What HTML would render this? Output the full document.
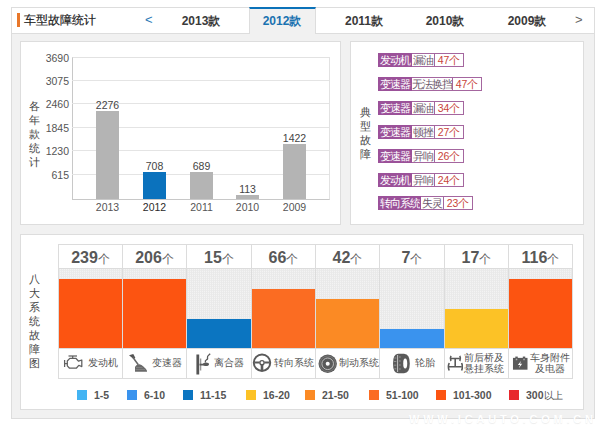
<!DOCTYPE html>
<html><head><meta charset="utf-8">
<style>
*{margin:0;padding:0;box-sizing:border-box}
html,body{width:600px;height:429px;overflow:hidden;background:#fff;font-family:"Liberation Sans",sans-serif;color:#333}
.a{position:absolute}
#outer{left:11px;top:7px;width:584px;height:412px;border:1px solid #ddd;background:#f1f1f1}
#hdr{left:12px;top:8px;width:582px;height:26px;background:#fff;border-bottom:1px solid #ddd}
#bar{left:17px;top:13px;width:3px;height:14px;background:#e8772a}
#title{left:24px;top:13px;font-size:11.5px;line-height:14px;color:#222;white-space:nowrap;-webkit-text-stroke:0.2px #222}
.tab{top:13px;font-size:12px;line-height:16px;font-weight:bold;color:#3a3a3a;text-align:center;width:80px;white-space:nowrap}
#act{left:249px;top:7px;width:67px;height:27px;background:#f1f1f1;border-left:1px solid #ddd;border-right:1px solid #ddd;border-top:2px solid #0b72b9}
.arr{top:12px;font-size:13px;line-height:16px;color:#666}
.arr.b{color:#2a78b5}
.panel{background:#fff;border:1px solid #ddd}
.yl{font-size:10.5px;line-height:12px;color:#555;text-align:right;width:30px;left:39px}
.grid{left:72px;width:257px;height:1px;background:#e4e4e4}
.bar{background:#b4b4b4;width:23px}
.vl{font-size:10.5px;line-height:12px;color:#444;text-align:center;width:39px}
.xl{font-size:10.5px;line-height:12px;color:#555;text-align:center;width:39px;top:201px}
.vt{font-size:11px;line-height:14px;color:#444;width:14px;text-align:center}
.tag{left:378px;height:14px;display:flex;font-size:10.5px;line-height:12px;white-space:nowrap;letter-spacing:-1px}
.tag span{display:block;text-align:center;border:1px solid #a4669f;height:14px;overflow:hidden}
.tag .k{background:#9b5199;color:#fff;border-color:#9b5199}
.tag .m{background:#fff;color:#6d5a6d;border-left:none}
.tag .n{background:#fff;color:#c8443a;border-left:none;letter-spacing:0}
.col{top:244px;width:65px;height:135px;border:1px solid #ddd;background:#fff}
.num{top:249px;height:18px;font-size:16px;line-height:18px;font-weight:bold;color:#585858;text-align:center;width:64px;white-space:nowrap}
.num small{font-size:12px;font-weight:normal;color:#666}
.plot{top:268px;height:80px;width:64px;background:#eeeeee}
.fb{width:64px}
.lg{top:390px;width:10px;height:10px}
.lt{top:388px;font-size:10.5px;line-height:14px;font-weight:bold;color:#555;white-space:nowrap}
.ic{top:350px;height:28px;width:64px}
.it{font-size:9.5px;line-height:12px;color:#555;white-space:nowrap}
</style></head><body>
<div class="a" id="outer"></div>
<div class="a" id="hdr"></div>
<div class="a" id="bar"></div>
<div class="a" id="title">车型故障统计</div>
<div class="a" id="act"></div>
<div class="a arr b" style="left:145px">&lt;</div>
<div class="a tab" style="left:161px">2013款</div>
<div class="a tab" style="left:242px;color:#1a72b0">2012款</div>
<div class="a tab" style="left:324px">2011款</div>
<div class="a tab" style="left:405px">2010款</div>
<div class="a tab" style="left:487px">2009款</div>
<div class="a arr" style="left:575px">&gt;</div>

<!-- chart panel -->
<div class="a panel" style="left:20px;top:41px;width:321px;height:184px"></div>
<div class="a" style="left:72px;top:57px;width:258px;height:143px;border:1px solid #e2e2e2;border-left:1px solid #c8c8c8;border-bottom:1px solid #c8c8c8"></div>
<div class="a yl" style="top:52px">3690</div>
<div class="a grid" style="top:80px"></div>
<div class="a yl" style="top:75px">3075</div>
<div class="a grid" style="top:103px"></div>
<div class="a yl" style="top:98px">2460</div>
<div class="a grid" style="top:127px"></div>
<div class="a yl" style="top:122px">1845</div>
<div class="a grid" style="top:150px"></div>
<div class="a yl" style="top:145px">1230</div>
<div class="a grid" style="top:174px"></div>
<div class="a yl" style="top:169px">615</div>
<div class="a bar" style="left:96px;top:111px;height:88px;background:#b4b4b4"></div>
<div class="a vl" style="left:88px;top:99px">2276</div>
<div class="a xl" style="left:88px;color:#555">2013</div>
<div class="a bar" style="left:143px;top:172px;height:27px;background:#0b72bd"></div>
<div class="a vl" style="left:135px;top:160px">708</div>
<div class="a xl" style="left:135px;color:#2a2a2a">2012</div>
<div class="a bar" style="left:190px;top:172px;height:27px;background:#b4b4b4"></div>
<div class="a vl" style="left:182px;top:160px">689</div>
<div class="a xl" style="left:182px;color:#555">2011</div>
<div class="a bar" style="left:236px;top:195px;height:4px;background:#b4b4b4"></div>
<div class="a vl" style="left:228px;top:183px">113</div>
<div class="a xl" style="left:228px;color:#555">2010</div>
<div class="a bar" style="left:283px;top:144px;height:55px;background:#b4b4b4"></div>
<div class="a vl" style="left:275px;top:132px">1422</div>
<div class="a xl" style="left:275px;color:#555">2009</div>
<div class="a vt" style="left:27px;top:99px">各</div>
<div class="a vt" style="left:27px;top:113px">年</div>
<div class="a vt" style="left:27px;top:127px">款</div>
<div class="a vt" style="left:27px;top:141px">统</div>
<div class="a vt" style="left:27px;top:155px">计</div>
<div class="a panel" style="left:350px;top:41px;width:234px;height:184px"></div>
<div class="a vt" style="left:358px;top:105px">典</div>
<div class="a vt" style="left:358px;top:119px">型</div>
<div class="a vt" style="left:358px;top:133px">故</div>
<div class="a vt" style="left:358px;top:147px">障</div>
<div class="a tag" style="top:53px"><span class="k" style="width:34px">发动机</span><span class="m" style="width:23px">漏油</span><span class="n" style="width:29px">47个</span></div>
<div class="a tag" style="top:77px"><span class="k" style="width:34px">变速器</span><span class="m" style="width:41px">无法换挡</span><span class="n" style="width:29px">47个</span></div>
<div class="a tag" style="top:101px"><span class="k" style="width:34px">变速器</span><span class="m" style="width:23px">漏油</span><span class="n" style="width:29px">34个</span></div>
<div class="a tag" style="top:125px"><span class="k" style="width:34px">变速器</span><span class="m" style="width:23px">顿挫</span><span class="n" style="width:29px">27个</span></div>
<div class="a tag" style="top:149px"><span class="k" style="width:34px">变速器</span><span class="m" style="width:23px">异响</span><span class="n" style="width:29px">26个</span></div>
<div class="a tag" style="top:173px"><span class="k" style="width:34px">发动机</span><span class="m" style="width:23px">异响</span><span class="n" style="width:29px">24个</span></div>
<div class="a tag" style="top:196px"><span class="k" style="width:43px">转向系统</span><span class="m" style="width:23px">失灵</span><span class="n" style="width:29px">23个</span></div>
<div class="a panel" style="left:20px;top:234px;width:564px;height:176px"></div>
<div class="a vt" style="left:27px;top:272px">八</div>
<div class="a vt" style="left:27px;top:286px">大</div>
<div class="a vt" style="left:27px;top:300px">系</div>
<div class="a vt" style="left:27px;top:314px">统</div>
<div class="a vt" style="left:27px;top:328px">故</div>
<div class="a vt" style="left:27px;top:342px">障</div>
<div class="a vt" style="left:27px;top:356px">图</div>
<div class="a" style="left:58px;top:244px;width:515px;height:135px;border:1px solid #dcdcdc;background:#fff"></div>
<div class="a" style="left:59px;top:268px;width:513px;height:81px;background-color:#f3f3f3;background-image:repeating-linear-gradient(90deg,#e9e9e9 0 1px,transparent 1px 2px),repeating-linear-gradient(0deg,#ebebeb 0 1px,transparent 1px 2px);border-top:1px solid #dcdcdc"></div>
<div class="a" style="left:59px;top:279px;width:63px;height:70px;background:#fc5411"></div>
<div class="a num" style="left:59px;width:63px">239<small>个</small></div>
<div class="a" style="left:123px;top:279px;width:63px;height:70px;background:#fc5411"></div>
<div class="a num" style="left:123px;width:63px">206<small>个</small></div>
<div class="a" style="left:122px;top:244px;width:1px;height:135px;background:#dcdcdc"></div>
<div class="a" style="left:187px;top:319px;width:64px;height:30px;background:#0b75c1"></div>
<div class="a num" style="left:187px;width:64px">15<small>个</small></div>
<div class="a" style="left:186px;top:244px;width:1px;height:135px;background:#dcdcdc"></div>
<div class="a" style="left:252px;top:289px;width:63px;height:60px;background:#fb6c22"></div>
<div class="a num" style="left:252px;width:63px">66<small>个</small></div>
<div class="a" style="left:251px;top:244px;width:1px;height:135px;background:#dcdcdc"></div>
<div class="a" style="left:316px;top:299px;width:63px;height:50px;background:#fb8a24"></div>
<div class="a num" style="left:316px;width:63px">42<small>个</small></div>
<div class="a" style="left:315px;top:244px;width:1px;height:135px;background:#dcdcdc"></div>
<div class="a" style="left:380px;top:329px;width:64px;height:20px;background:#3a93ee"></div>
<div class="a num" style="left:380px;width:64px">7<small>个</small></div>
<div class="a" style="left:379px;top:244px;width:1px;height:135px;background:#dcdcdc"></div>
<div class="a" style="left:445px;top:309px;width:63px;height:40px;background:#fcc226"></div>
<div class="a num" style="left:445px;width:63px">17<small>个</small></div>
<div class="a" style="left:444px;top:244px;width:1px;height:135px;background:#dcdcdc"></div>
<div class="a" style="left:509px;top:279px;width:63px;height:70px;background:#fc5411"></div>
<div class="a num" style="left:509px;width:63px">116<small>个</small></div>
<div class="a" style="left:508px;top:244px;width:1px;height:135px;background:#dcdcdc"></div>
<div class="a" style="left:58px;top:348px;width:515px;height:1px;background:#dcdcdc"></div>
<svg class="a" style="left:63px;top:354px" width="21" height="15" viewBox="0 0 21 15"><g fill="none" stroke="#606060" stroke-width="1.25" stroke-linejoin="round"><path d="M5.5 2H14"/><path d="M9.7 2V4.3"/><path d="M4.3 7L6.8 4.3H12.8L15.6 7.2L18.8 6V12.6L15.8 11.3L13.5 14H6.3L4.3 11.8Z"/><path d="M1.6 6V13M1.6 9.5H4.3"/></g></svg>
<svg class="a" style="left:128px;top:353px" width="20" height="20" viewBox="0 0 20 20"><path d="M1 2.2L5.3 1L7.4 5L5.6 6Z" fill="#555"/><path d="M5 4.5L10.3 11.8" stroke="#666" stroke-width="1.5"/><path d="M7 18.8V13.8Q8.5 11 11.5 11.3Q15.5 12.5 19 17.5V18.8Z" fill="#6a6a6a"/><path d="M8 14.5H14.5M7.5 16.5H17" stroke="#8a8a8a" stroke-width="0.7"/></svg>
<svg class="a" style="left:195px;top:352px" width="17" height="24" viewBox="0 0 17 24"><path d="M2.8 2.5V22.5" stroke="#555" stroke-width="2.8"/><path d="M5.6 6.5V18.5" stroke="#999" stroke-width="1.4"/><path d="M4.5 12.6H9" stroke="#5a5a5a" stroke-width="1.8"/><ellipse cx="11" cy="12.3" rx="3" ry="1.8" fill="#5a5a5a"/><path d="M10.5 10.5Q9.8 8.6 11.2 8Q13 7.5 12.5 5.5Q12.3 4 13.6 3.3L15.2 1.8" fill="none" stroke="#5a5a5a" stroke-width="1.3"/></svg>
<svg class="a" style="left:252px;top:353px" width="20" height="20" viewBox="0 0 20 20"><g fill="none" stroke="#5a5a5a"><circle cx="10" cy="9.7" r="8.2" stroke-width="2"/><circle cx="10" cy="9.7" r="2.1" stroke-width="1.4"/><path d="M2.5 9.5H7.6M12.4 9.5H17.5" stroke-width="2.2"/><path d="M10 12V18" stroke-width="2.6"/></g></svg>
<svg class="a" style="left:318px;top:354px" width="20" height="20" viewBox="0 0 20 20"><circle cx="9.7" cy="9.8" r="9.2" fill="#5a5a5a"/><circle cx="9.7" cy="9.8" r="5.8" fill="none" stroke="#bbb" stroke-width="1"/><circle cx="9.7" cy="9.8" r="2" fill="#fff"/><circle cx="9.7" cy="9.8" r="7.8" fill="none" stroke="#888" stroke-width="0.6"/></svg>
<svg class="a" style="left:392px;top:353px" width="19" height="21" viewBox="0 0 19 21"><path d="M6 0.8H12Q17.8 1 17.8 10.5Q17.8 20 12 20.2H6Q1 20 1 10.5Q1 1 6 0.8Z" fill="#5a5a5a"/><ellipse cx="13.2" cy="10.5" rx="2" ry="5" fill="#fff"/><path d="M5.6 2V19" stroke="#c4c4c4" stroke-width="1"/><path d="M2.3 5H4.3M2 8.5H4.3M2 12.2H4.3M2.3 15.8H4.3M7 4H8.8M7 8H8.8M7 12H8.8M7 16H8.8" stroke="#9a9a9a" stroke-width="0.9"/></svg>
<svg class="a" style="left:447px;top:355px" width="16" height="17" viewBox="0 0 16 17"><g fill="none" stroke="#5a5a5a" stroke-width="1.6"><path d="M4 0.8Q2.6 3.4 4 6M12.8 0.8Q14.2 3.4 12.8 6"/><path d="M4 3.5H12.8M8.2 3.5V11.8M2 11.8H14.8"/><path d="M2.2 8Q0.6 11.8 2.2 15.5M14.6 8Q16.2 11.8 14.6 15.5"/></g></svg>
<svg class="a" style="left:512px;top:356px" width="16" height="15" viewBox="0 0 17 16"><rect x="1" y="2" width="15.5" height="12.6" fill="#5a5a5a"/><rect x="3.5" y="0.6" width="2.6" height="2" fill="#5a5a5a"/><rect x="11.5" y="0.6" width="2.6" height="2" fill="#5a5a5a"/><circle cx="4.8" cy="3.6" r="0.9" fill="#aaa"/><circle cx="12.8" cy="3.6" r="0.9" fill="#aaa"/><path d="M9.8 5L6.2 9.6H8.6L7.2 13L10.8 8.3H8.5Z" fill="#fff"/></svg>
<div class="a it" style="left:88px;top:357px">发动机</div>
<div class="a it" style="left:152px;top:357px">变速器</div>
<div class="a it" style="left:214px;top:357px">离合器</div>
<div class="a it" style="left:274px;top:357px">转向系统</div>
<div class="a it" style="left:339px;top:357px">制动系统</div>
<div class="a it" style="left:415px;top:357px">轮胎</div>
<div class="a it" style="left:464px;top:353px;line-height:10.5px;text-align:center;width:40px">前后桥及<br>悬挂系统</div>
<div class="a it" style="left:530px;top:353px;line-height:10.5px;text-align:center;width:40px">车身附件<br>及电器</div>
<div class="a lg" style="left:77px;background:#43b4f3"></div><div class="a lt" style="left:94px">1-5</div>
<div class="a lg" style="left:127px;background:#3a93ee"></div><div class="a lt" style="left:144px">6-10</div>
<div class="a lg" style="left:183px;background:#0b75c1"></div><div class="a lt" style="left:200px">11-15</div>
<div class="a lg" style="left:246px;background:#fcc226"></div><div class="a lt" style="left:263px">16-20</div>
<div class="a lg" style="left:305px;background:#fb8a24"></div><div class="a lt" style="left:322px">21-50</div>
<div class="a lg" style="left:369px;background:#fb6c22"></div><div class="a lt" style="left:386px">51-100</div>
<div class="a lg" style="left:436px;background:#fc5411"></div><div class="a lt" style="left:453px">101-300</div>
<div class="a lg" style="left:509px;background:#e8282d"></div><div class="a lt" style="left:526px">300<span style="font-weight:normal;font-size:10px;letter-spacing:-0.5px">以上</span></div>
<div class="a" style="left:409px;top:413px;width:190px;font-size:11px;line-height:13px;font-weight:bold;color:#fff;letter-spacing:3.8px;white-space:nowrap;text-shadow:0 1px 1px rgba(0,0,0,0.08)">WWW.ICAUTO.COM.CN</div>
</body></html>
